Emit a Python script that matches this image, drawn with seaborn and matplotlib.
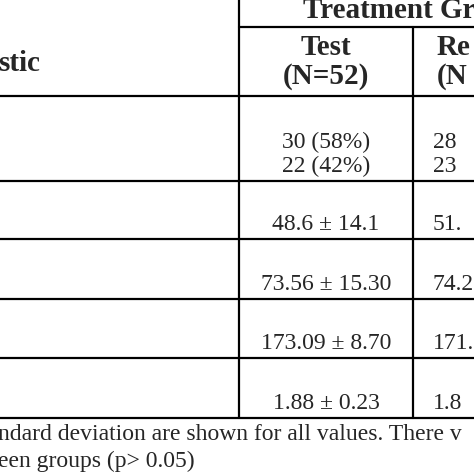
import matplotlib.pyplot as plt
import seaborn as sns

sns.set_theme(style='white')
plt.rcParams['font.family'] = ['Liberation Serif', 'DejaVu Serif']

# Table content (the image is a crop of a larger table)
col_headers = ['Test\n(N=52)', 'Re\n(N']
test_values = ['30 (58%)\n22 (42%)', '48.6 ± 14.1', '73.56 ± 15.30',
               '173.09 ± 8.70', '1.88 ± 0.23']
ref_values = ['28\n23', '51.', '74.2', '171.', '1.8']
footnote = ['ndard deviation are shown for all values. There v',
            'een groups (p> 0.05)']

# Layout in pixel coordinates
row_lines = [27, 96, 181, 239, 299, 358, 418]
col_lines = [239, 413]

fig = plt.figure(figsize=(4.74, 4.74), dpi=100)
ax = fig.add_axes([0, 0, 1, 1])
ax.set_xlim(0, 474)
ax.set_ylim(474, 0)
ax.axis('off')

lw = 1.6
ax.plot([239, 474], [27, 27], color='black', lw=lw)
for y in row_lines[1:]:
    ax.plot([0, 474], [y, y], color='black', lw=lw)
ax.plot([col_lines[0]] * 2, [0, 418], color='black', lw=lw)
ax.plot([col_lines[1]] * 2, [27, 418], color='black', lw=lw)

ax.text(303, 10, 'Treatment Gr', fontsize=21, fontweight='bold', ha='left', va='center')
ax.text(-2, 63, 'stic', fontsize=21, fontweight='bold', ha='left', va='center')
ax.text(326, 62, col_headers[0], fontsize=21, fontweight='bold', ha='center',
        va='center', linespacing=1.05)
ax.text(437, 62, col_headers[1], fontsize=21, fontweight='bold', ha='left',
        va='center', linespacing=1.05)

row_bottoms = row_lines[2:]
for i, (tv, rv) in enumerate(zip(test_values, ref_values)):
    yb = row_bottoms[i] - 4
    ax.text(326, yb, tv, fontsize=17, ha='center', va='bottom', linespacing=1.2)
    ax.text(433, yb, rv, fontsize=17, ha='left', va='bottom', linespacing=1.2)

ax.text(-2, 434, footnote[0], fontsize=17, ha='left', va='center')
ax.text(-2, 461, footnote[1], fontsize=17, ha='left', va='center')

fig.savefig('out.png', dpi=100)
